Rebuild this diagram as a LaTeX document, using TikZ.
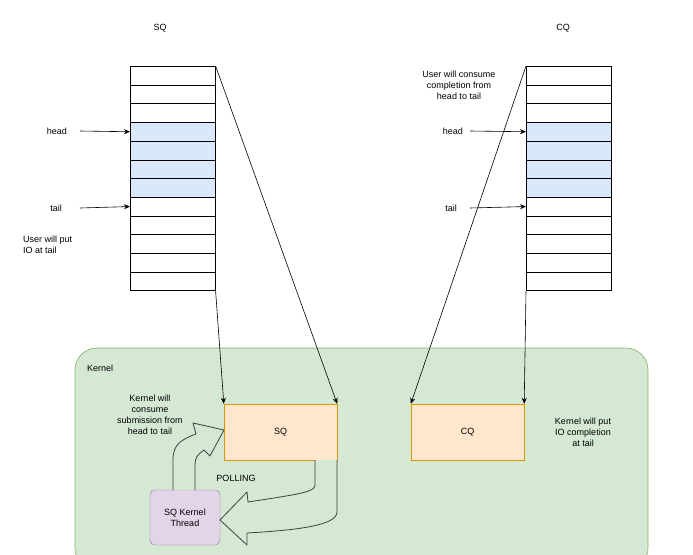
\documentclass[tikz,border=0pt]{standalone}
\usepackage{fontspec}
\setmainfont{Liberation Sans}
\usetikzlibrary{arrows.meta}
\definecolor{kg}{HTML}{D5E8D4}
\definecolor{kgs}{HTML}{82B366}
\definecolor{lb}{HTML}{DAE8FC}
\definecolor{org}{HTML}{FFE6CC}
\definecolor{orgs}{HTML}{D79B00}
\definecolor{pur}{HTML}{E1D5E7}
\definecolor{purs}{HTML}{9673A6}
\begin{document}
\begin{tikzpicture}[x=1pt,y=-1pt,
  cell/.style={draw=black,line width=0.6pt,minimum width=85pt,minimum height=18.7pt,inner sep=0,anchor=north west},
  blue/.style={cell,fill=lb},
  txt/.style={font=\fontsize{9}{11}\selectfont,align=center,inner sep=1pt},
  arr/.style={-{Stealth[length=6pt,width=5pt]},line width=0.6pt},
  big/.style={draw=black!75,fill=kg,line width=0.8pt,line join=round}]
\useasboundingbox (0,0) rectangle (693,554);
\fill[white] (0,0) rectangle (693,554);
\draw[fill=kg,draw=kgs,rounded corners=22pt,line width=0.6pt] (75,348) -- (648,348) -- (648,570) -- (75,570) -- cycle;
\node[txt,anchor=west] (kern) at (86,368) {Kernel};
% arrays
\foreach \n/\x in {s/130,c/526}{
  \foreach \i in {0,...,11}{
    \pgfmathsetmacro\yy{66+\i*18.7}
    \ifnum\i>2 \ifnum\i<7
      \node[blue] (\n\i) at (\x,\yy) {};
    \else \node[cell] (\n\i) at (\x,\yy) {}; \fi
    \else \node[cell] (\n\i) at (\x,\yy) {}; \fi
  }
}
\node[txt] (sqt) at (160,28) {SQ};
\node[txt] (cqt) at (563,28) {CQ};
\node[txt,anchor=east] (sh) at (68,131) {head};
\node[txt,anchor=east] (st) at (63,208) {tail};
\draw[arr] (80,131) -- (s3.west);
\draw[arr] (80,208) -- (s7.west);
\node[txt,align=left,anchor=west] (up) at (22,245) {User will put\\IO at tail};
\node[txt,anchor=east] (ch) at (464,131) {head};
\node[txt,anchor=east] (ct) at (458,208) {tail};
\draw[arr] (470,131) -- (c3.west);
\draw[arr] (470,208) -- (c7.west);
\node[txt] (uc) at (459,85) {User will consume\\completion from\\head to tail};
% kernel boxes
\node[draw=orgs,fill=org,minimum width=113pt,minimum height=56pt,inner sep=0,font=\fontsize{9}{11}\selectfont] (ksq) at (280.5,432) {SQ};
\node[draw=orgs,fill=org,minimum width=113pt,minimum height=56pt,inner sep=0,font=\fontsize{9}{11}\selectfont] (kcq) at (467.5,432) {CQ};
\node[txt] (kp) at (583,432) {Kernel will put\\IO completion\\at tail};
\node[txt] (kc) at (150,415) {Kernel will\\consume\\submission from\\head to tail};
\node[draw=purs,fill=pur,rounded corners=5pt,minimum width=70pt,minimum height=55pt,inner sep=0,txt] (th) at (185,517.5) {SQ Kernel\\Thread};
\node[txt] (pol) at (236,478) {POLLING};
% connectors
\draw[arr] (s0.north east) -- (ksq.north east);
\draw[arr] (s11.south east) -- (ksq.north west);
\draw[arr] (c0.north west) -- (kcq.north west);
\draw[arr] (c11.south west) -- (kcq.north east);
% block arrows
\draw[big] (173,490) -- (173,460) .. controls (173,445) and (180,440) .. (196,434) -- (193,423) -- (224,430) -- (210,456) -- (204,450) .. controls (197,455) and (195,458) .. (195,465) -- (195,490);
\draw[big] (315,460) -- (315,485) .. controls (315,492) and (300,494) .. (248,502) -- (247,492) -- (220,520) -- (247,545) -- (247,533) .. controls (300,530) and (337,525) .. (337,512) -- (337,460);
\end{tikzpicture}
\end{document}
